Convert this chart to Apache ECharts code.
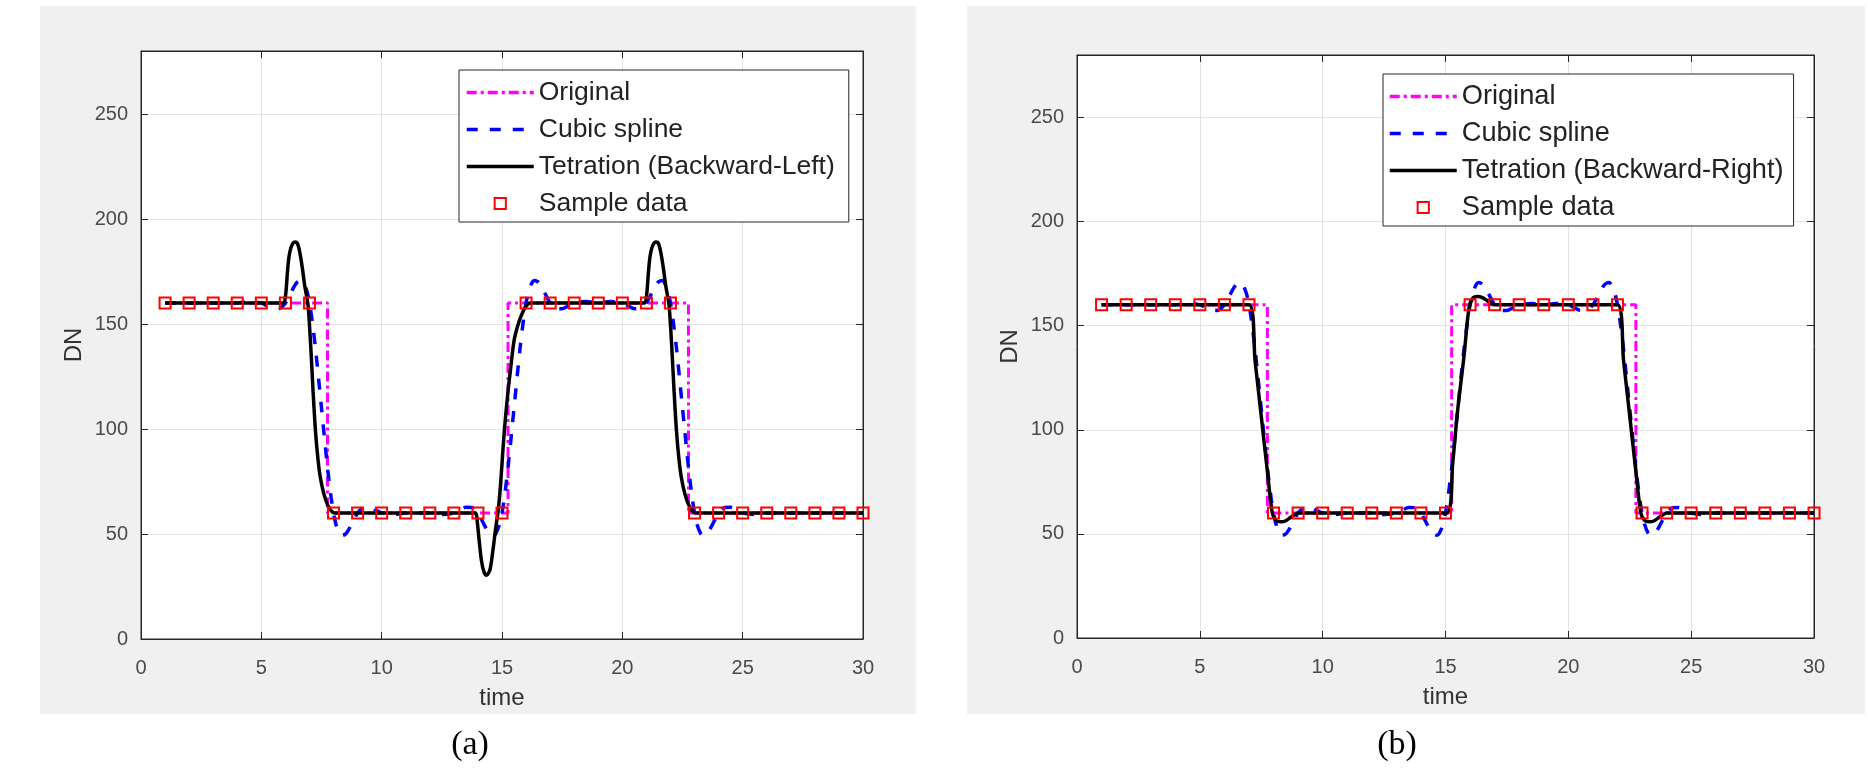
<!DOCTYPE html>
<html><head><meta charset="utf-8">
<script src="https://cdn.jsdelivr.net/npm/echarts@6/dist/echarts.min.js"></script>
<style>html,body{margin:0;padding:0;background:#fff}#c{width:1868px;height:781px}</style>
</head><body><div id="c"></div>
<script>
// ---------- data ----------
const time = [1,2,3,4,5,6,7,8,9,10,11,12,13,14,15,16,17,18,19,20,21,22,23,24,25,26,27,28,29,30];
const sampleDN = [160,160,160,160,160,160,160,60,60,60,60,60,60,60,60,160,160,160,160,160,160,160,60,60,60,60,60,60,60,60];
const originalX = [1,7.75,7.75,15.25,15.25,22.75,22.75,30];
const originalDN = [160,160,60,60,160,160,60,60];
const cubicSpline = [[1,160],[2,160],[3,160],[4,160],[4.5,160.7],[5,160],[5.25,158.6],[5.5,157.3],[5.75,157.4],[6,160],[6.1,162],[6.25,165.4],[6.4,168.5],[6.5,170],[6.65,170.7],[6.75,169.7],[6.9,165.3],[7,160],[7.1,152.6],[7.25,138.4],[7.5,110],[7.75,81.6],[7.9,67.4],[8,60],[8.1,54.7],[8.25,50.3],[8.35,49.3],[8.5,50],[8.6,51.5],[8.75,54.6],[8.9,58],[9,60],[9.25,62.6],[9.5,62.7],[9.75,61.4],[10,60],[10.5,59.3],[11,60],[12,60],[12.5,59.3],[13,60],[13.25,61.4],[13.5,62.7],[13.75,62.6],[14,60],[14.1,58],[14.25,54.6],[14.4,51.5],[14.5,50],[14.65,49.3],[14.75,50.3],[14.9,54.7],[15,60],[15.1,67.4],[15.25,81.6],[15.5,110],[15.75,138.4],[15.9,152.6],[16,160],[16.1,165.3],[16.25,169.7],[16.35,170.7],[16.5,170],[16.6,168.5],[16.75,165.4],[16.9,162],[17,160],[17.25,157.4],[17.5,157.3],[17.75,158.6],[18,160],[18.5,160.7],[19,160],[19.5,160.7],[20,160],[20.25,158.6],[20.5,157.3],[20.75,157.4],[21,160],[21.1,162],[21.25,165.4],[21.4,168.5],[21.5,170],[21.65,170.7],[21.75,169.7],[21.9,165.3],[22,160],[22.1,152.6],[22.25,138.4],[22.5,110],[22.75,81.6],[22.9,67.4],[23,60],[23.1,54.7],[23.25,50.3],[23.35,49.3],[23.5,50],[23.6,51.5],[23.75,54.6],[23.9,58],[24,60],[24.25,62.6],[24.5,62.7],[24.75,61.4],[25,60],[25.5,59.3],[26,60],[27,60],[28,60],[29,60],[30,60]];
const tetrationLeft = [[1,160],[5.9,160],[6,163],[6.08,174],[6.15,182],[6.25,187],[6.4,189],[6.5,188.3],[6.6,184],[6.7,177],[6.8,168.5],[6.9,162],[6.95,158],[7.05,140],[7.15,118],[7.25,99],[7.35,86],[7.45,77],[7.6,69],[7.75,64],[7.9,61],[8.05,60],[13.9,60],[13.97,56],[14.05,47],[14.15,37],[14.25,32],[14.36,30.4],[14.5,33],[14.62,42],[14.73,52],[14.85,62],[14.95,75],[15.05,92],[15.15,106],[15.25,118],[15.35,128],[15.5,142],[15.65,149],[15.8,154],[16,158.5],[16.2,160],[20.9,160],[21,163],[21.08,174],[21.15,182],[21.25,187],[21.4,189],[21.5,188.3],[21.6,184],[21.7,177],[21.8,168.5],[21.9,162],[21.95,158],[22.05,140],[22.15,118],[22.25,99],[22.35,86],[22.45,77],[22.6,69],[22.75,64],[22.9,61],[23.05,60],[30,60]];
const tetrationRight = [[1,160],[7,160],[7.25,133],[7.5,106.5],[7.75,80],[7.95,60],[8.1,56.5],[8.3,55.8],[8.5,56.3],[8.7,58],[8.9,59.6],[9,60],[15.05,60],[15.3,85],[15.5,110],[15.75,135],[15.95,158],[16.1,163],[16.3,164],[16.5,163.5],[16.7,162],[16.9,160.5],[17,160],[22,160],[22.25,133],[22.5,106.5],[22.75,80],[22.95,60],[23.1,56.5],[23.3,55.8],[23.5,56.3],[23.7,58],[23.9,59.6],[24,60],[30,60]];
const panelLabels = ['(a)', '(b)'];
const tetrationNames = ['Tetration (Backward-Left)', 'Tetration (Backward-Right)'];
const xLabelName = 'time';
const yLabelName = 'DN';

// ---------- layout ----------
const grids = [
  {left: 141, top: 51, width: 722, height: 588},
  {left: 1077, top: 55, width: 737, height: 583}
];
const panels = [
  {x: 40, y: 6, w: 876, h: 708, labelX: 470},
  {x: 967, y: 6, w: 898, h: 708, labelX: 1397}
];
const legendPos = [
  {left: 459, top: 70, fs: 26.5, pad: [9, 14, 5, 6]},
  {left: 1383, top: 74, fs: 27.2, pad: [9, 10, 5, 5]}
];
const tetraData = [tetrationLeft, tetrationRight];

const FONT = 'Liberation Sans, Arial, sans-serif';
const axisCol = '#262626';
const gridCol = '#e3e3e3';

const option = {
  animation: false,
  backgroundColor: '#ffffff',
  grid: grids.map(g => Object.assign({show: true, backgroundColor: '#ffffff', borderColor: axisCol, borderWidth: 1, containLabel: false}, g)),
  xAxis: [],
  yAxis: [],
  legend: [],
  series: [],
  graphic: []
};

for (let i = 0; i < 2; i++) {
  const base = () => ({
    gridIndex: i, type: 'value', min: 0,
    axisLine: {show: true, onZero: false, lineStyle: {color: axisCol, width: 1}},
    axisTick: {show: true, inside: true, length: 7, lineStyle: {color: axisCol, width: 1}},
  });
  option.xAxis.push(Object.assign(base(), {
    position: 'bottom', max: 30, interval: 5,
    name: xLabelName, nameLocation: 'middle', nameGap: 47,
    nameTextStyle: {fontFamily: FONT, fontSize: 24, color: '#333'},
    axisLabel: {fontFamily: FONT, fontSize: 20, color: '#4a4a4a', margin: 19},
    splitLine: {show: true, lineStyle: {color: gridCol, width: 1}}
  }));
  option.xAxis.push(Object.assign(base(), {
    position: 'top', max: 30, interval: 5,
    axisLabel: {show: false}, splitLine: {show: false}
  }));
  option.yAxis.push(Object.assign(base(), {
    position: 'left', max: 280, interval: 50,
    name: yLabelName, nameLocation: 'middle', nameGap: 55,
    nameTextStyle: {fontFamily: FONT, fontSize: 24, color: '#333'},
    axisLabel: {fontFamily: FONT, fontSize: 20, color: '#4a4a4a', margin: 13, showMaxLabel: false},
    splitLine: {show: true, lineStyle: {color: gridCol, width: 1}}
  }));
  option.yAxis.push(Object.assign(base(), {
    position: 'right', max: 280, interval: 50,
    axisLabel: {show: false}, splitLine: {show: false}
  }));

  const xi = i * 2, yi = i * 2;
  option.series.push({
    name: 'Original', type: 'line', xAxisIndex: xi, yAxisIndex: yi,
    data: originalX.map((x, k) => [x, originalDN[k]]),
    symbol: 'none', z: 3,
    lineStyle: {color: '#ff00ff', width: 3, type: [10, 4, 3, 4]},
    itemStyle: {color: '#ff00ff'}
  });
  option.series.push({
    name: 'Cubic spline', type: 'line', xAxisIndex: xi, yAxisIndex: yi,
    data: cubicSpline, symbol: 'none', smooth: 0.3, z: 4,
    lineStyle: {color: '#0000ff', width: 3.5, type: [11, 12]},
    itemStyle: {color: '#0000ff'}
  });
  option.series.push({
    name: tetrationNames[i], type: 'line', xAxisIndex: xi, yAxisIndex: yi,
    data: tetraData[i], symbol: 'none', smooth: 0.3, z: 5,
    lineStyle: {color: '#000000', width: 3.5},
    itemStyle: {color: '#000000'}
  });
  option.series.push({
    name: 'Sample data', type: 'line', xAxisIndex: xi, yAxisIndex: yi,
    data: time.map((t, k) => [t, sampleDN[k]]),
    symbol: 'rect', symbolSize: 11, showSymbol: true, showAllSymbol: true, z: 6,
    lineStyle: {opacity: 0, width: 0},
    itemStyle: {color: 'rgba(0,0,0,0)', borderColor: '#ff0000', borderWidth: 2}
  });

  const lp = legendPos[i];
  const hideSym = {opacity: 0};
  option.legend.push({
    left: lp.left, top: lp.top, orient: 'vertical',
    data: [
      {name: 'Original', itemStyle: hideSym, lineStyle: {width: 3.5}},
      {name: 'Cubic spline', itemStyle: hideSym, lineStyle: {width: 3.5}},
      {name: tetrationNames[i], itemStyle: hideSym, lineStyle: {width: 3.5}},
      {name: 'Sample data'}
    ],
    itemWidth: 67, itemHeight: 14, itemGap: 10,
    padding: lp.pad,
    backgroundColor: '#ffffff', borderColor: axisCol, borderWidth: 1, borderRadius: 0,
    selectedMode: false,
    textStyle: {fontFamily: FONT, fontSize: lp.fs, color: '#222'}
  });

  const p = panels[i];
  option.graphic.push({
    type: 'rect', silent: true, z: -10,
    shape: {x: p.x, y: p.y, width: p.w, height: p.h},
    style: {fill: '#f0f0f0'}
  });
  option.graphic.push({
    type: 'text', silent: true, z: 10,
    x: p.labelX, y: 745,
    style: {text: panelLabels[i], font: '34px "Liberation Serif", "Times New Roman", serif', fill: '#000', textAlign: 'center', textVerticalAlign: 'middle'}
  });
}

const chart = echarts.init(document.getElementById('c'), null, {renderer: 'canvas'});
chart.setOption(option);
</script>
</body></html>
